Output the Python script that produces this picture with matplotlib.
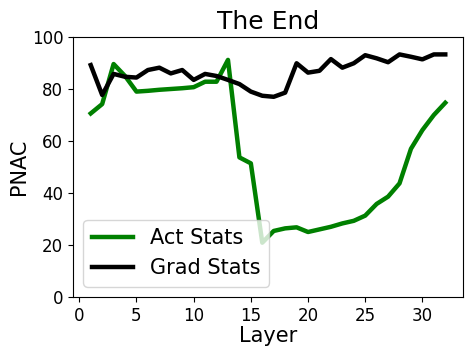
import matplotlib
matplotlib.use('Agg')
from matplotlib import pyplot as plt

layers = list(range(1, 33))

# values
act_stats = [70.6, 74.2, 89.6, 85.0, 79.0, 79.3, 79.7, 80.0, 80.3, 80.7, 82.8, 82.8,
             91.2, 53.7, 51.4, 20.9, 25.4, 26.4, 26.8, 25.0, 26.0, 27.0, 28.3, 29.3,
             31.3, 35.8, 38.6, 43.7, 57.0, 64.2, 70.0, 74.7]
grad_stats = [89.2, 77.7, 85.8, 84.7, 84.4, 87.3, 88.2, 86.0, 87.3, 83.5, 85.8, 85.0,
              83.5, 81.9, 79.0, 77.4, 77.0, 78.6, 89.9, 86.3, 87.0, 91.5, 88.2, 89.9,
              93.0, 91.8, 90.3, 93.3, 92.4, 91.4, 93.3, 93.3]

fig, ax = plt.subplots(figsize=(4.74, 3.55), dpi=100)
fig.subplots_adjust(left=73 / 474, right=463 / 474, top=1 - 37 / 355, bottom=1 - 297 / 355)

ax.plot(layers, act_stats, color='green', linewidth=3.2, label='Act Stats')
ax.plot(layers, grad_stats, color='black', linewidth=3.2, label='Grad Stats')

ax.set_ylim(0, 100)
ax.set_yticks([0, 20, 40, 60, 80, 100])
ax.set_xticks([0, 5, 10, 15, 20, 25, 30])
ax.tick_params(labelsize=12)
ax.set_title('The End', fontsize=18)
ax.set_xlabel('Layer', fontsize=15, labelpad=1)
ax.set_ylabel('PNAC', fontsize=15, labelpad=2)
ax.legend(loc='lower left', fontsize=15, handlelength=2.0)

fig.savefig('out.png', dpi=100)
